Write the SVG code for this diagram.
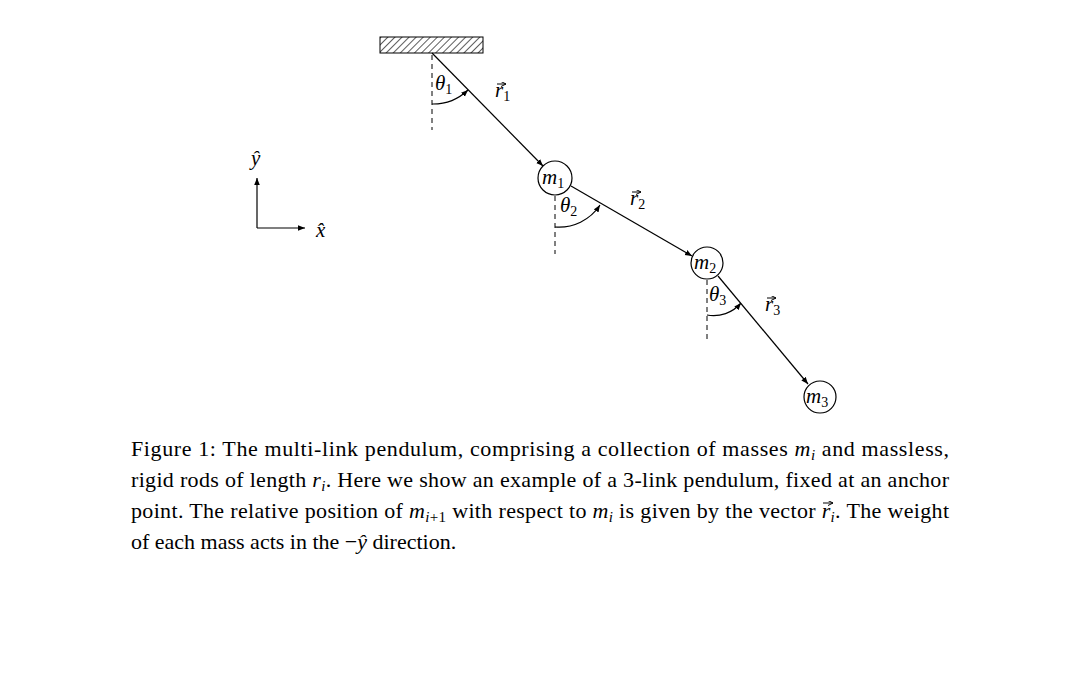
<svg xmlns="http://www.w3.org/2000/svg" width="1080" height="684" viewBox="0 0 1080 684">
<defs>
<pattern id="h" width="5" height="5" patternUnits="userSpaceOnUse" patternTransform="rotate(45)"><rect width="5" height="5" fill="#fff"/><line x1="0" y1="0" x2="0" y2="5" stroke="#333" stroke-width="1.6"/></pattern>
<marker id="a" viewBox="0 0 10 10" refX="10" refY="5" markerWidth="7" markerHeight="7" orient="auto" markerUnits="userSpaceOnUse"><path d="M0,1 L10,5 L0,9 Z" fill="#000"/></marker>
<marker id="v" viewBox="0 0 10 10" refX="10" refY="5" markerWidth="5" markerHeight="5" orient="auto" markerUnits="userSpaceOnUse"><path d="M0,0 L10,5 L0,10" fill="none" stroke="#000" stroke-width="2"/></marker>
<style>
.l{stroke:#000;stroke-width:1.2;fill:none}
.d{stroke:#000;stroke-width:1;stroke-dasharray:5,4;fill:none}
.vb{stroke:#000;stroke-width:1;fill:none}
.m{font-family:"Liberation Serif",serif;font-style:italic;font-size:21px}
.s{font-family:"Liberation Serif",serif;font-size:14px}
.c{font-family:"Liberation Serif",serif;font-size:22px}
circle{fill:#fff;stroke:#000;stroke-width:1.2}
</style>
</defs>
<rect width="1080" height="684" fill="#fff"/>
<g id="anchor"><rect x="380" y="37" width="103" height="16" fill="url(#h)" stroke="#000" stroke-width="1"/></g>
<g id="connectors">
<line class="l" x1="432" y1="53" x2="543" y2="166" marker-end="url(#a)"/>
<line class="l" x1="571" y1="186" x2="692" y2="256" marker-end="url(#a)"/>
<line class="l" x1="718" y1="276" x2="808" y2="384" marker-end="url(#a)"/>
<line class="d" x1="432" y1="55" x2="432" y2="130"/>
<line class="d" x1="555" y1="196" x2="555" y2="254"/>
<line class="d" x1="707" y1="280" x2="707" y2="341"/>
<path class="l" d="M432,104 A51,51 0 0 0 468,90" marker-end="url(#a)"/>
<path class="l" d="M555,227 A49,49 0 0 0 600,205" marker-end="url(#a)"/>
<path class="l" d="M707,315 A36,36 0 0 0 741,303" marker-end="url(#a)"/>
<line class="l" x1="257" y1="228" x2="257" y2="178" marker-end="url(#a)"/>
<line class="l" x1="257" y1="228" x2="305" y2="228" marker-end="url(#a)"/>
</g>
<g id="m1"><circle cx="555" cy="178" r="17"/><text x="542" y="184" class="m">m<tspan class="s" font-style="normal" dy="4">1</tspan></text></g>
<g id="m2"><circle cx="707" cy="263" r="16"/><text x="694" y="269" class="m">m<tspan class="s" font-style="normal" dy="4">2</tspan></text></g>
<g id="m3"><circle cx="820" cy="397" r="16"/><text x="806" y="403" class="m">m<tspan class="s" font-style="normal" dy="4">3</tspan></text></g>
<g id="labels">
<text x="435" y="90" class="m">θ<tspan class="s" font-style="normal" dy="4">1</tspan></text>
<text x="495" y="97" class="m">r<tspan class="s" font-style="normal" dy="4">1</tspan></text>
<line class="vb" x1="497" y1="84" x2="506" y2="84" marker-end="url(#v)"/>
<text x="560" y="212" class="m">θ<tspan class="s" font-style="normal" dy="4">2</tspan></text>
<text x="630" y="205" class="m">r<tspan class="s" font-style="normal" dy="4">2</tspan></text>
<line class="vb" x1="632" y1="192" x2="641" y2="192" marker-end="url(#v)"/>
<text x="709" y="301" class="m">θ<tspan class="s" font-style="normal" dy="4">3</tspan></text>
<text x="765" y="311" class="m">r<tspan class="s" font-style="normal" dy="4">3</tspan></text>
<line class="vb" x1="767" y1="298" x2="776" y2="298" marker-end="url(#v)"/>
<text x="251" y="165" class="m">ŷ</text>
<text x="316" y="237" class="m">x̂</text>
</g>
<g id="caption" class="c">
<text x="131" y="456" textLength="818" lengthAdjust="spacing">Figure 1: The multi-link pendulum, comprising a collection of masses <tspan font-style="italic">m</tspan><tspan font-style="italic" font-size="15" dy="4">i</tspan><tspan dy="-4"> and massless,</tspan></text>
<text x="131" y="487" textLength="818" lengthAdjust="spacing">rigid rods of length <tspan font-style="italic">r</tspan><tspan font-style="italic" font-size="15" dy="4">i</tspan><tspan dy="-4">. Here we show an example of a 3-link pendulum, fixed at an anchor</tspan></text>
<text x="131" y="518" textLength="818" lengthAdjust="spacing">point. The relative position of <tspan font-style="italic">m</tspan><tspan font-size="15" dy="4"><tspan font-style="italic">i</tspan>+1</tspan><tspan dy="-4"> with respect to </tspan><tspan font-style="italic">m</tspan><tspan font-style="italic" font-size="15" dy="4">i</tspan><tspan dy="-4"> is given by the vector </tspan><tspan font-style="italic">r</tspan><tspan font-style="italic" font-size="15" dy="4">i</tspan><tspan dy="-4">. The weight</tspan></text>
<line class="vb" x1="823" y1="503" x2="833" y2="503" marker-end="url(#v)"/>
<text x="131" y="549">of each mass acts in the −<tspan font-style="italic">ŷ</tspan> direction.</text>
</g>
</svg>
